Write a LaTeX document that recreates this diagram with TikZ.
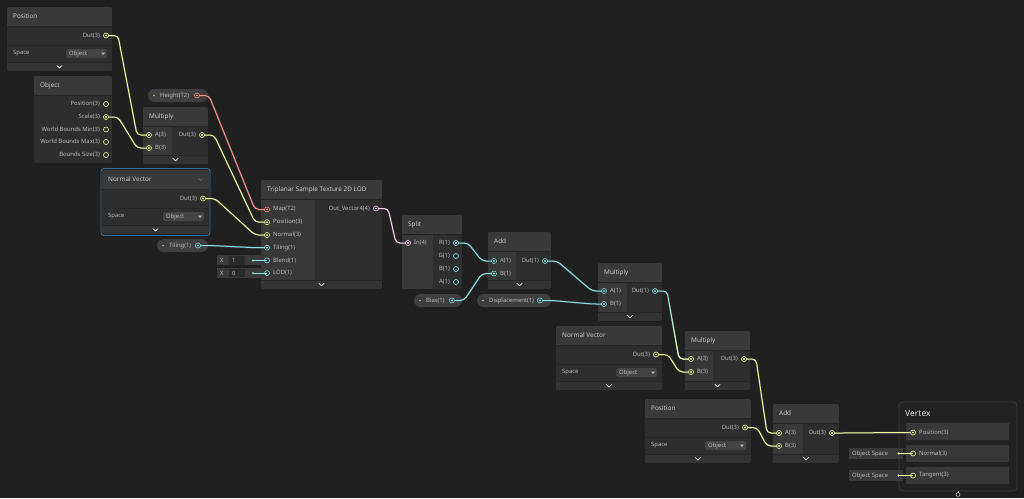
\documentclass[tikz,border=0pt]{standalone}
\usepackage{fontspec}
\setmainfont{Noto Sans}
\usetikzlibrary{calc,fadings}
\pgfdeclarelayer{bgl}
\pgfdeclarelayer{boxes}
\pgfdeclarelayer{wires}
\pgfsetlayers{bgl,boxes,wires,main}
\definecolor{bgc}{HTML}{202020}
\definecolor{headc}{HTML}{393939}
\definecolor{inc}{HTML}{383838}
\definecolor{outc}{HTML}{2E2E2E}
\definecolor{footc}{HTML}{333333}
\definecolor{linec}{HTML}{262626}
\definecolor{txtc}{HTML}{CACACA}
\definecolor{lblc}{HTML}{BBBBBB}
\definecolor{vthree}{HTML}{F6FF9A}
\definecolor{vone}{HTML}{84E4E7}
\definecolor{vfour}{HTML}{FBCBF4}
\definecolor{texc}{HTML}{FF8B8B}
\definecolor{pillc}{HTML}{3F3F3F}
\definecolor{greenc}{HTML}{8FD14F}
\definecolor{selc}{HTML}{3B6A8E}
\definecolor{ddc}{HTML}{444444}
\definecolor{fieldc}{HTML}{3A3A3A}
\definecolor{valc}{HTML}{2A2A2A}
\definecolor{vtxc}{HTML}{222222}
\definecolor{vtxb}{HTML}{3A3A3A}
\definecolor{blkc}{HTML}{383838}
\tikzfading[name=fadeup, top color=transparent!100, bottom color=transparent!0]
\tikzset{
  title/.style={text=txtc, font=\fontsize{6.4}{7.7}\selectfont, inner sep=0, anchor=west},
  vtitle/.style={text=white!88!black, font=\fontsize{8.5}{10}\selectfont, inner sep=0, anchor=west},
  lbl/.style={text=lblc, font=\fontsize{5.9}{7}\selectfont, inner sep=0},
  lin/.style={lbl, anchor=west},
  lout/.style={lbl, anchor=east},
  cport/.style={circle, inner sep=0, minimum size=5pt, draw=#1, line width=0.6pt, fill=outc,
    path picture={\fill[#1] (path picture bounding box.center) circle (1.1pt);}},
  oport/.style={circle, inner sep=0, minimum size=5pt, draw=#1, line width=0.6pt},
  fdot/.style={circle, fill=#1, inner sep=0, minimum size=2.2pt},
  chev/.style={draw=white!90!black, line width=0.8pt, line cap=round, line join=round},
  wire/.style={draw=#1, line width=1pt, rounded corners=4pt, line join=round,
    preaction={draw=black!75, line width=2pt}},
}
% ports
\newcommand\inp[5]{\node[cport=#4] (#1) at (#2,#3) {};\node[lin] (#1-l) at (#2+6,#3) {#5};}
\newcommand\inpo[5]{\node[oport=#4] (#1) at (#2,#3) {};\node[lin] (#1-l) at (#2+6,#3) {#5};}
\newcommand\outp[5]{\node[cport=#4] (#1) at (#2,#3) {};\node[lout] (#1-l) at (#2-6,#3) {#5};}
\newcommand\outpo[5]{\node[oport=#4] (#1) at (#2,#3) {};\node[lout] (#1-l) at (#2-6,#3) {#5};}
% operation node: name, x1, y1, x2, y2, xdiv, title, footer
\newcommand\opnode[8]{%
\begin{pgfonlayer}{boxes}
\begin{scope}
\clip[rounded corners=2pt] (#2,#3) rectangle (#4,#5);
\fill[outc] (#2,#3) rectangle (#4,#5);
\fill[headc] (#2,#3) rectangle (#4,#3+19);
\fill[inc] (#2,#3+19) rectangle (#6,#5);
\draw[linec, line width=0.6pt] (#2,#3+19) -- (#4,#3+19);
\ifnum#8=1
\fill[footc] (#2,#5-8.5) rectangle (#4,#5);
\draw[linec, line width=0.6pt] (#2,#5-8.5) -- (#4,#5-8.5);
\fi
\end{scope}
\end{pgfonlayer}
\ifnum#8=1
\draw[chev] ({(#2+#4)/2-2.5},#5-5.6) -- ({(#2+#4)/2},#5-3.2) -- ({(#2+#4)/2+2.5},#5-5.6);
\fi
\node[title] (#1-t) at (#2+6,#3+9.5) {#7};
}
% property node (Position / Normal Vector): name, x1, y1, x2, title
\newcommand\propnode[5]{%
\begin{pgfonlayer}{boxes}
\begin{scope}
\clip[rounded corners=2pt] (#2,#3) rectangle (#4,#3+64);
\fill[outc] (#2,#3) rectangle (#4,#3+64);
\fill[headc] (#2,#3) rectangle (#4,#3+19);
\draw[linec, line width=0.6pt] (#2,#3+19) -- (#4,#3+19);
\draw[linec, line width=0.6pt] (#2,#3+38) -- (#4,#3+38);
\fill[footc] (#2,#3+55.5) rectangle (#4,#3+64);
\draw[linec, line width=0.6pt] (#2,#3+55.5) -- (#4,#3+55.5);
\end{scope}
\fill[ddc, rounded corners=1.5pt] (#4-46,#3+42) rectangle (#4-5,#3+51);
\end{pgfonlayer}
\draw[chev] ({(#2+#4)/2-2.5},#3+58.6) -- ({(#2+#4)/2},#3+61) -- ({(#2+#4)/2+2.5},#3+58.6);
\node[title] (#1-t) at (#2+6,#3+9.5) {#5};
\outp{#1-out}{#4-6}{#3+28.5}{vthree}{Out(3)}
\node[lin] (#1-sp) at (#2+6,#3+46.5) {Space};
\node[lin] (#1-dd) at (#4-43,#3+46.5) {Object};
\fill[lblc] (#4-11,#3+45.6) -- (#4-7,#3+45.6) -- (#4-9,#3+48) -- cycle;
}
% pill: name, x1, y1, x2, label, port colour, port x
\newcommand\pill[7]{%
\begin{pgfonlayer}{boxes}
\fill[pillc, rounded corners=6.5pt] (#2,#3) rectangle (#4,#3+13);
\end{pgfonlayer}
\fill[greenc] (#2+6,#3+6.5) circle (0.9pt);
\node[lin] (#1-l) at (#2+12,#3+6.5) {#5};
\node[cport=#6] (#1) at (#7,#3+6.5) {};
}
% inline field: name, x1, y centre, value
\newcommand\xfield[4]{%
\begin{pgfonlayer}{boxes}
\fill[fieldc] (#2,#3-5) rectangle (#2+44,#3+5);
\fill[valc] (#2+12,#3-4.2) rectangle (#2+28,#3+4.2);
\end{pgfonlayer}
\node[lin] (#1-x) at (#2+3,#3) {X};
\node[lin] (#1-v) at (#2+15,#3) {#4};
\node[fdot=vone] (#1) at (#2+36,#3) {};
}
\newcommand\wire[3]{\draw[wire=#1] (#2.center) -- ++(12,0) -- ($(#3.center)+(-12,0)$) -- (#3.center);}
\newcommand\swire[3]{\draw[wire=#1] (#2.center) -- (#3.center);}

\begin{document}
\begin{tikzpicture}[x=1pt,y=-1pt]
\begin{pgfonlayer}{bgl}
\fill[bgc] (0,0) rectangle (1024,498);
\end{pgfonlayer}
\useasboundingbox (0,0) rectangle (1024,498);

% Position (top)
\propnode{pos1}{7}{7}{112}{Position}

% Object
\begin{pgfonlayer}{boxes}
\begin{scope}
\clip[rounded corners=2pt] (34,76) rectangle (112,163);
\fill[outc] (34,76) rectangle (112,163);
\fill[headc] (34,76) rectangle (112,95);
\draw[linec, line width=0.6pt] (34,95) -- (112,95);
\end{scope}
\end{pgfonlayer}
\node[title] (obj-t) at (40,85.5) {Object};
\outpo{obj-pos}{106}{104}{vthree}{Position(3)}
\outp{obj-scale}{106}{117}{vthree}{Scale(3)}
\outpo{obj-wmin}{106}{129.5}{vthree}{World Bounds Min(3)}
\outpo{obj-wmax}{106}{142}{vthree}{World Bounds Max(3)}
\outpo{obj-bs}{106}{155}{vthree}{Bounds Size(3)}

% Height property
\pill{height}{148}{89}{208}{Height(T2)}{texc}{197}

% Multiply 1
\opnode{mul1}{143}{107}{208}{164}{172}{Multiply}{1}
\inp{mul1-a}{149}{135}{vthree}{A(3)}
\inp{mul1-b}{149}{148}{vthree}{B(3)}
\outp{mul1-out}{202}{135}{vthree}{Out(3)}

% Normal Vector (selected)
\propnode{nv1}{102}{170}{209}{Normal Vector}
\begin{pgfonlayer}{boxes}
\draw[selc, line width=0.9pt, rounded corners=3pt] (101,168.5) rectangle (210,235.5);
\end{pgfonlayer}
\draw[draw=lblc!60!black, line width=0.5pt] (198.5,178.5) -- (200.5,180.5) -- (202.5,178.5);

% Tiling property
\pill{tiling}{157}{239}{208}{Tiling(1)}{vone}{198}

% inline fields
\xfield{blendf}{217}{260.4}{1}
\xfield{lodf}{217}{273.1}{0}

% Triplanar
\opnode{tri}{261}{180}{382}{289}{315}{Triplanar Sample Texture 2D LOD}{1}
\inp{tri-map}{267}{209.5}{texc}{Map(T2)}
\inp{tri-pos}{267}{222.2}{vthree}{Position(3)}
\inp{tri-nrm}{267}{235}{vthree}{Normal(3)}
\inp{tri-til}{267}{247.7}{vone}{Tiling(1)}
\inpo{tri-bl}{267}{260.4}{vone}{Blend(1)}
\inpo{tri-lod}{267}{273.1}{vone}{LOD(1)}
\outp{tri-out}{376}{208.5}{vfour}{Out\_Vector4(4)}

% Split
\opnode{split}{402}{215}{462}{289}{433}{Split}{0}
\inp{split-in}{408}{243}{vfour}{In(4)}
\outp{split-r}{456}{243}{vone}{R(1)}
\outpo{split-g}{456}{256}{vone}{G(1)}
\outpo{split-b}{456}{269}{vone}{B(1)}
\outpo{split-a}{456}{282}{vone}{A(1)}

% Add 1
\opnode{add1}{488}{232}{551}{289}{516}{Add}{1}
\inp{add1-a}{494}{261}{vone}{A(1)}
\inp{add1-b}{494}{273.5}{vone}{B(1)}
\outp{add1-out}{545}{261}{vone}{Out(1)}

% Bias / Displacement
\pill{bias}{414}{294}{462}{Bias(1)}{vone}{452}
\pill{disp}{477}{294}{551}{Displacement(1)}{vone}{540}

% Multiply 2
\opnode{mul2}{598}{263}{662}{321}{627}{Multiply}{1}
\inp{mul2-a}{604}{291}{vone}{A(1)}
\inp{mul2-b}{604}{304}{vone}{B(1)}
\outp{mul2-out}{655}{291}{vone}{Out(1)}

% Normal Vector 2
\propnode{nv2}{556}{326}{662}{Normal Vector}

% Multiply 3
\opnode{mul3}{685}{331}{750}{390}{713}{Multiply}{1}
\inp{mul3-a}{691}{359}{vthree}{A(3)}
\inp{mul3-b}{691}{372}{vthree}{B(3)}
\outp{mul3-out}{744}{359}{vthree}{Out(3)}

% Position 2
\propnode{pos2}{645}{399}{751}{Position}

% Add 2
\opnode{add2}{773}{404}{839}{463}{803}{Add}{1}
\inp{add2-a}{779}{433}{vthree}{A(3)}
\inp{add2-b}{779}{446}{vthree}{B(3)}
\outp{add2-out}{832}{433}{vthree}{Out(3)}

% Vertex context
\begin{pgfonlayer}{boxes}
\filldraw[fill=vtxc, draw=vtxb, line width=0.8pt, rounded corners=4pt] (899,402) rectangle (1017,491);
\fill[blkc] (906,423) rectangle (1009,440);
\fill[blkc] (906,445) rectangle (1009,462);
\fill[blkc] (906,467) rectangle (1009,484);
\fill[fieldc] (849,448) rectangle (903,459);
\fill[fieldc] (849,470) rectangle (903,481);
\end{pgfonlayer}
\node[vtitle] (vtx-t) at (905,414) {Vertex};
\inp{vtx-pos}{913}{432.5}{vthree}{Position(3)}
\inpo{vtx-nrm}{913}{453.5}{vthree}{Normal(3)}
\inpo{vtx-tan}{913}{475.5}{vthree}{Tangent(3)}
\node[lin] (osn-l) at (852,453.5) {Object Space};
\node[lin] (ost-l) at (852,475.5) {Object Space};
\node[fdot=vthree] (osn) at (898.5,453.5) {};
\node[fdot=vthree] (ost) at (898.5,475.5) {};
\draw[lblc, line width=0.6pt] (958,491) -- (958,492.5);
\node[oport=lblc, minimum size=4pt] (vtx-bot) at (958,494.5) {};

% wires
\begin{pgfonlayer}{wires}
\wire{vthree}{pos1-out}{mul1-a}
\wire{vthree}{obj-scale}{mul1-b}
\wire{texc}{height}{tri-map}
\wire{vthree}{mul1-out}{tri-pos}
\wire{vthree}{nv1-out}{tri-nrm}
\wire{vone}{tiling}{tri-til}
\swire{vone}{blendf}{tri-bl}
\swire{vone}{lodf}{tri-lod}
\wire{vfour}{tri-out}{split-in}
\wire{vone}{split-r}{add1-a}
\wire{vone}{bias}{add1-b}
\wire{vone}{add1-out}{mul2-a}
\wire{vone}{disp}{mul2-b}
\draw[wire=vone] (mul2-out.center) -- ++(12,0) -- ($(mul3-a.center)+(-12,0)$) -- (mul3-a.center);
\draw[draw=vthree, line width=1pt, rounded corners=4pt, line join=round, path fading=fadeup] (mul2-out.center) -- ++(12,0) -- ($(mul3-a.center)+(-12,0)$) -- (mul3-a.center);
\wire{vthree}{nv2-out}{mul3-b}
\wire{vthree}{mul3-out}{add2-a}
\wire{vthree}{pos2-out}{add2-b}
\wire{vthree}{add2-out}{vtx-pos}
\swire{vthree}{osn}{vtx-nrm}
\swire{vthree}{ost}{vtx-tan}
\end{pgfonlayer}
\end{tikzpicture}
\end{document}
